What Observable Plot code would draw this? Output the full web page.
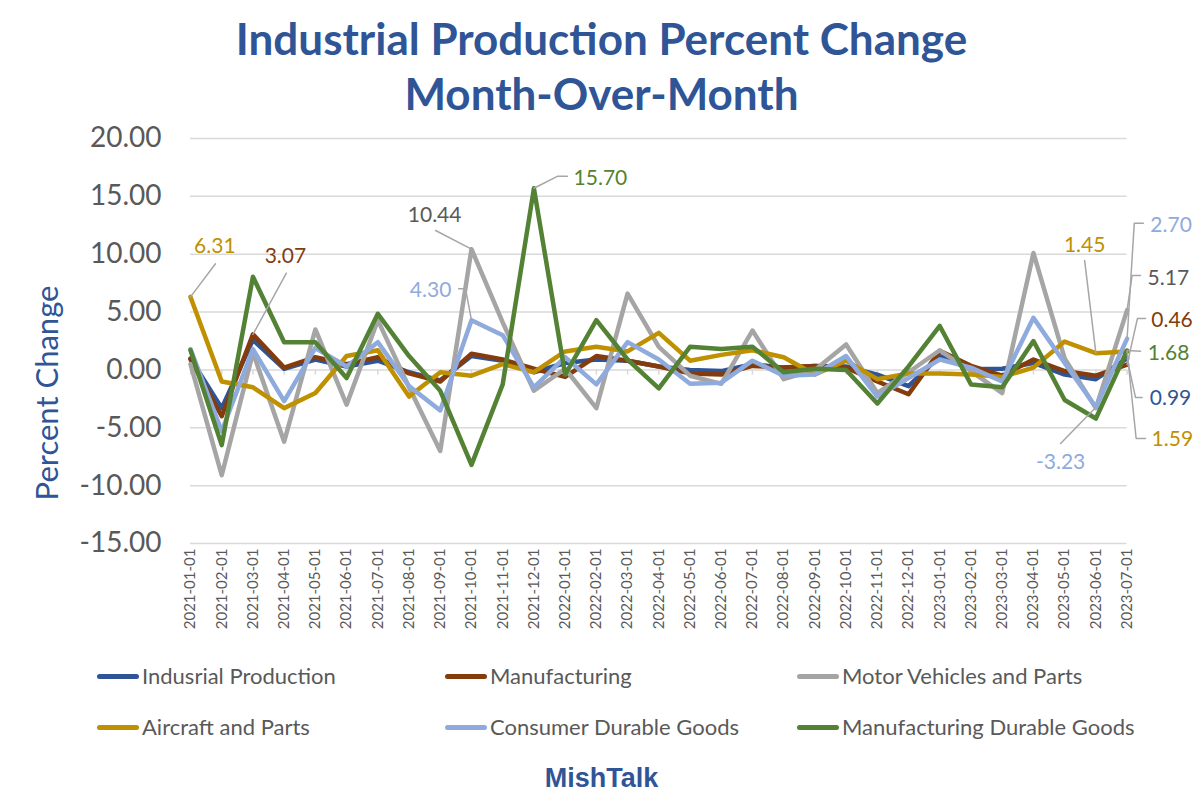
<!DOCTYPE html>
<html><head><meta charset="utf-8">
<script src="https://cdn.jsdelivr.net/npm/d3@7"></script>
<script src="https://cdn.jsdelivr.net/npm/@observablehq/plot@0.6"></script>
<style>
body{margin:0;background:#fff;}
#wrap{position:relative;width:1203px;height:812px;overflow:hidden;font-family:Lato,"Open Sans",sans-serif;}
.title{position:absolute;left:0;width:1203px;text-align:center;color:#2F5597;font-weight:bold;font-size:44px;line-height:44px;white-space:nowrap;}
#ylab{position:absolute;left:46px;top:393px;transform:translate(-50%,-50%) rotate(-90deg);color:#2F5597;font-size:31px;white-space:nowrap;line-height:31px;}
#chart{position:absolute;left:0;top:110px;}
.leg{position:absolute;height:26px;line-height:26px;font-size:22px;color:#595959;white-space:nowrap;}
.sw{position:absolute;width:42px;height:5px;border-radius:3px;}
#brand{position:absolute;left:0;width:1203px;top:763px;text-align:center;font-family:"Liberation Sans",Arial,sans-serif;font-weight:bold;font-size:27px;line-height:30px;color:#2F5597;}
</style></head>
<body><div id="wrap">
<div class="title" style="top:16px">Industrial Production Percent Change</div>
<div class="title" style="top:71px">Month-Over-Month</div>
<div id="ylab">Percent Change</div>
<div id="chart"></div>
<div id="legend"></div>
<div id="brand">MishTalk</div>
</div>
<script>
const months = ["2021-01-01","2021-02-01","2021-03-01","2021-04-01","2021-05-01","2021-06-01","2021-07-01","2021-08-01","2021-09-01","2021-10-01","2021-11-01","2021-12-01","2022-01-01","2022-02-01","2022-03-01","2022-04-01","2022-05-01","2022-06-01","2022-07-01","2022-08-01","2022-09-01","2022-10-01","2022-11-01","2022-12-01","2023-01-01","2023-02-01","2023-03-01","2023-04-01","2023-05-01","2023-06-01","2023-07-01"];
const seriesNames = ["Indusrial Production","Manufacturing","Motor Vehicles and Parts","Aircraft and Parts","Consumer Durable Goods","Manufacturing Durable Goods"];
const industrialProduction = [1.0,-3.3,2.6,0.1,0.9,0.3,0.8,-0.2,-0.9,1.2,0.8,-0.2,0.6,0.9,0.8,0.3,0.0,-0.1,0.5,0.2,0.35,0.3,-0.4,-1.4,1.2,0.05,0.1,0.6,-0.4,-0.8,0.99];
const manufacturing = [0.9,-4.0,3.07,0.2,1.1,0.5,1.1,-0.3,-1.0,1.4,0.9,0.1,-0.6,1.2,0.8,0.3,-0.3,-0.4,0.35,0.2,0.35,0.2,-1.0,-2.1,1.65,0.35,-0.5,0.9,-0.1,-0.5,0.46];
const motorVehicles = [0.5,-9.1,1.5,-6.2,3.5,-3.0,4.3,-1.5,-7.0,10.44,4.1,-1.8,0.1,-3.3,6.6,2.0,-0.5,-1.2,3.4,-0.8,0.0,2.2,-2.0,-0.2,1.7,-0.1,-2.0,10.1,1.0,-3.3,5.17];
const aircraft = [6.31,-1.0,-1.5,-3.3,-2.0,1.2,1.7,-2.3,-0.2,-0.5,0.5,-0.2,1.6,2.0,1.6,3.2,0.8,1.3,1.7,1.1,-0.4,0.8,-0.8,-0.3,-0.3,-0.4,-0.6,0.2,2.45,1.45,1.59];
const consumerDurable = [1.8,-5.3,1.8,-2.7,1.9,0.3,2.4,-1.4,-3.5,4.30,3.0,-1.5,1.1,-1.25,2.4,0.9,-1.2,-1.1,0.8,-0.5,-0.4,1.2,-2.3,-0.7,0.9,0.2,-1.0,4.5,0.6,-3.23,2.70];
const mfgDurable = [1.7,-6.5,8.05,2.4,2.4,-0.7,4.85,1.2,-1.8,-8.2,-1.25,15.70,-0.4,4.3,0.9,-1.6,2.0,1.8,2.0,-0.2,0.1,0.0,-2.9,0.3,3.8,-1.25,-1.5,2.5,-2.6,-4.2,1.68];
const yTicks = [-15,-10,-5,0,5,10,15,20];

const seriesValues = [industrialProduction, manufacturing, motorVehicles, aircraft, consumerDurable, mfgDurable];
const seriesColors = ["#2F5597","#843C0C","#A5A5A5","#BF9000","#8FAADC","#548235"];
const labelColors  = ["#2F5597","#843C0C","#595959","#BF9000","#8FAADC","#548235"];

// data labels: series index, month index, label centre (in data units), leader path (data units)
const annotations = [
  {s:3, i:0,  lx:0.78,  ly:10.66, path:[[0.80,9.17]]},
  {s:1, i:2,  lx:3.04,  ly:9.80,  path:[[3.07,8.36]]},
  {s:2, i:9,  lx:7.82,  ly:13.34, path:[[7.85,12.05]]},
  {s:4, i:9,  lx:7.69,  ly:6.92,  path:[[8.59,7.01],[8.81,7.01]]},
  {s:5, i:11, lx:13.13, ly:16.60, path:[[12.07,16.73],[11.75,16.73]]},
  {s:4, i:29, lx:27.87, ly:-7.98, path:[[27.87,-6.36]]},
  {s:3, i:29, lx:28.64, ly:10.75, path:[[28.64,9.45]]},
  {s:4, i:30, lx:31.41, ly:12.48, path:[[30.52,12.68],[30.23,12.68]]},
  {s:2, i:30, lx:31.32, ly:7.96,  path:[[30.43,8.16],[30.16,8.16]]},
  {s:1, i:30, lx:31.44, ly:4.27,  path:[[30.59,4.44],[30.33,4.44]]},
  {s:5, i:30, lx:31.33, ly:1.44,  path:[[30.43,1.62]]},
  {s:0, i:30, lx:31.39, ly:-2.47, path:[[30.48,-2.39],[30.27,-2.39]]},
  {s:3, i:30, lx:31.45, ly:-6.02, path:[[30.59,-5.93],[30.29,-5.93]]}
];

const rows = [];
seriesValues.forEach((vals, k) => vals.forEach((v, i) => rows.push({k, i, v})));
const leaderPts = [];
annotations.forEach((a, n) => {
  a.path.forEach(([x, y]) => leaderPts.push({n, x, y}));
  leaderPts.push({n, x: a.i, y: seriesValues[a.s][a.i]});
});
const labelRows = annotations.map(a => ({x: a.lx, y: a.ly, text: seriesValues[a.s][a.i].toFixed(2), fill: labelColors[a.s]}));

const marks = [
  Plot.ruleY(yTicks, {stroke:"#D9D9D9", strokeWidth:1.5}),
  Plot.ruleX(d3.range(months.length), {x: d => d, y1: 0, y2: -0.45, stroke:"#D9D9D9", strokeWidth:1.5}),
];
seriesValues.forEach((vals, k) => {
  marks.push(Plot.line(rows.filter(r => r.k === k), {x:"i", y:"v", stroke: seriesColors[k], strokeWidth:4.5, strokeLinejoin:"round", strokeLinecap:"round"}));
});
marks.push(Plot.line(leaderPts, {x:"x", y:"y", z:"n", stroke:"#A6A6A6", strokeWidth:1.5}));
marks.push(Plot.text(labelRows, {x:"x", y:"y", text:"text", fill: d => d.fill, fontSize:21, fontFamily:"Lato"}));
marks.push(Plot.axisY({ticks: yTicks, tickFormat: d => d.toFixed(2), tickSize:0, tickPadding:29, fontSize:28, label:null, fill:"#595959"}));
marks.push(Plot.axisX({ticks: d3.range(months.length), tickFormat: i => months[i], tickRotate:-90, tickSize:0, tickPadding:5, fontSize:15, label:null, fill:"#595959"}));

const chart = Plot.plot({
  width: 1203, height: 540,
  marginLeft: 190, marginRight: 76.4, marginTop: 28, marginBottom: 107,
  x: {domain: [0, 30]},
  y: {domain: [-15, 20]},
  style: {fontFamily: "Lato", color: "#595959", background: "transparent", overflow: "visible"},
  marks
});
document.getElementById("chart").appendChild(chart);

const legPos = [[97,676],[445,676],[797,676],[97,727],[445,727],[797,727]];
const leg = document.getElementById("legend");
seriesNames.forEach((name, k) => {
  const [x, y] = legPos[k];
  const sw = document.createElement("div");
  sw.className = "sw"; sw.style.left = x + "px"; sw.style.top = (y - 2.5) + "px"; sw.style.background = seriesColors[k];
  leg.appendChild(sw);
  const t = document.createElement("div");
  t.className = "leg"; t.style.left = (x + 45) + "px"; t.style.top = (y - 13) + "px"; t.textContent = name;
  leg.appendChild(t);
});
</script>
</body></html>
